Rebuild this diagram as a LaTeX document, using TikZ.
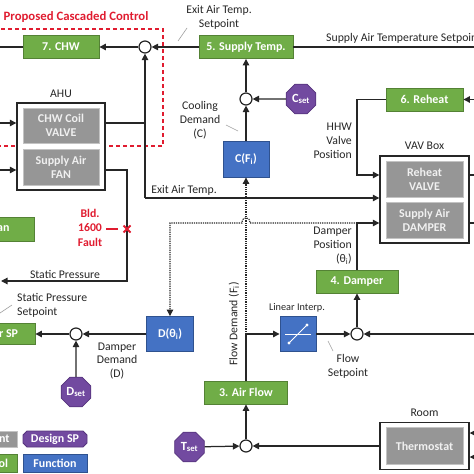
\documentclass[tikz,border=0pt]{standalone}
\usepackage{fontspec}
\setmainfont{Carlito}
\usetikzlibrary{arrows.meta,shapes.geometric,calc}
\definecolor{grn}{RGB}{112,173,71}
\definecolor{grnd}{RGB}{84,130,53}
\definecolor{gry}{RGB}{150,150,150}
\definecolor{gryd}{RGB}{195,195,195}
\definecolor{gryt}{RGB}{240,240,240}
\definecolor{blu}{RGB}{68,114,196}
\definecolor{blud}{RGB}{47,82,143}
\definecolor{pur}{RGB}{114,74,160}
\definecolor{purd}{RGB}{86,52,125}
\definecolor{lc}{RGB}{38,38,38}
\definecolor{rd}{RGB}{224,28,48}
\begin{document}
\begin{tikzpicture}[x=1bp,y=-1bp]
\tikzset{
 ln/.style={draw=lc, line width=1.25bp},
 arr/.style={ln, -{Triangle[length=6.5bp,width=6.5bp]}},
 box/.style={rectangle, line width=0.9bp, inner sep=0pt, align=center, text=white,
   font=\fontsize{12}{14}\selectfont\bfseries},
 gbox/.style={box, fill=grn, draw=grnd, minimum height=23bp},
 pbox/.style={box, fill=gry, draw=gryd, text=gryt, minimum width=77bp},
 bbox/.style={box, fill=blu, draw=blud, minimum height=35bp},
 obox/.style={rectangle, draw=lc, line width=1.4bp, fill=white, inner sep=0pt},
 sumc/.style={circle, draw=lc, line width=1.2bp, fill=white, minimum size=12bp, inner sep=0pt},
 octo/.style={regular polygon, regular polygon sides=8, fill=pur, draw=purd, line width=0.8bp,
   minimum size=32bp, inner sep=0pt, text=white, font=\fontsize{12.5}{14}\selectfont\bfseries},
 lbl/.style={font=\fontsize{11.8}{14}\selectfont, text=lc, inner sep=0pt, align=center},
 lead/.style={draw=gray!75, line width=0.6bp},
 dots/.style={densely dotted, line width=1.1bp},
}
\useasboundingbox (0,0) rectangle (474,474);

% red dashed frame
\draw[rd, line width=1.3bp, dash pattern=on 4bp off 3bp] (-5,29) rectangle (163,146);
\node[lbl, text=rd, font=\fontsize{12.8}{15}\selectfont\bfseries] (title) at (76,17) {Proposed Cascaded Control};

% outer boxes
\node[obox, minimum width=88bp, minimum height=87bp] (ahu) at (61,146.5) {};
\node[lbl] (ahul) at (61,94) {AHU};
\node[obox, minimum width=89bp, minimum height=87bp] (vav) at (424.5,199.5) {};
\node[lbl] (vavl) at (424.5,146) {VAV Box};
\node[obox, minimum width=89bp, minimum height=47bp] (room) at (424.5,446) {};
\node[lbl] (rooml) at (424.5,413) {Room};

% green control boxes
\node[gbox, minimum width=76bp] (chw) at (61,47) {7. CHW};
\node[gbox, minimum width=94bp] (st5) at (246,47) {5. Supply Temp.};
\node[gbox, minimum width=77bp] (r6) at (424.5,99.5) {6. Reheat};
\node[gbox, minimum width=82bp] (d4) at (357,281.5) {4. Damper};
\node[gbox, minimum width=83bp] (a3) at (246,392.5) {3. Air Flow};
\node[gbox, minimum width=76bp, minimum height=24bp] (f1) at (-4,229) {};
\node[box, anchor=east] (f1t) at (10,229) {an};
\node[gbox, minimum width=76bp, minimum height=21bp] (spsp) at (-3,334) {};
\node[box, anchor=east] (spspt) at (18.5,334) {r SP};

% gray plant boxes
\node[pbox, minimum width=76bp, minimum height=35bp] (cv) at (61,125.5) {CHW Coil\\VALVE};
\node[pbox, minimum width=76bp, minimum height=36bp] (fan) at (61,167) {Supply Air\\FAN};
\node[pbox, minimum height=36bp] (rv) at (424.5,179) {Reheat\\VALVE};
\node[pbox, minimum height=36bp] (sd) at (424.5,220) {Supply Air\\DAMPER};
\node[pbox, minimum height=37bp] (th) at (424.5,446) {Thermostat};

% blue functions
\node[bbox, minimum width=46bp, minimum height=36bp] (cf) at (246,159) {C(F\textsubscript{i})};
\node[bbox, minimum width=47bp] (dth) at (170,334) {D(θ\textsubscript{i})};
\node[bbox, minimum width=36bp] (lin) at (298,334) {};
\draw[white, line width=1bp] (285,334) -- (311,334);
\draw[white, line width=1bp] (289,343) -- (307,325);
\fill[white] (289,343) circle (1.7bp) (307,325) circle (1.7bp);

% summing junctions
\node[sumc] (s1) at (145,47) {};
\node[sumc] (s3) at (246,99) {};
\node[sumc] (s2) at (76,334) {};
\node[sumc] (s4) at (357,334) {};
\node[sumc] (s5) at (246,446) {};

% design setpoints
\node[octo] (cset) at (301,99) {C\textsubscript{set}};
\node[octo] (dset) at (76,392) {D\textsubscript{set}};
\node[octo] (tset) at (189.5,447) {T\textsubscript{set}};

% helper coordinates
\coordinate (le1) at (-2,47);
\coordinate (re1) at (476,47);
\coordinate (re2) at (476,99.5);
\coordinate (hh) at (357,175);
\coordinate (ca) at (145,123);
\coordinate (ea) at (145,198);
\coordinate (fo) at (127,170);
\coordinate (sp) at (127,281);
\coordinate (le2) at (-2,123);
\coordinate (le3) at (-2,170);
\coordinate (le4) at (1,281);
\coordinate (dp) at (357,223);
\coordinate (dd) at (170,223);
\coordinate (fd) at (246,334);
\coordinate (re3) at (476,334);
\coordinate (re4) at (476,433);
\coordinate (re5) at (476,457);
\coordinate (re6) at (476,175);
\coordinate (re7) at (476,223);
\coordinate (fx) at (127,229);

% connectors
\draw[ln] (chw.west) -- (le1);
\draw[arr] (s1) -- (chw);
\draw[arr] (st5) -- (s1);
\draw[ln] (st5.east) -- (re1);
\draw[arr] (s3) -- (st5);
\draw[arr] (cset) -- (s3);
\draw[arr] (cf) -- (s3);
\draw[arr] (re2) -- (r6);
\draw[arr] (r6.west) -| (hh) -- (vav.west |- hh);
\draw[arr] (le2) -- (ahu.west |- ca);
\draw[arr] (le3) -- (ahu.west |- fo);
\draw[ln] (ahu.east |- ca) -- (ca);
\draw[arr] (ea) -- (s1);
\draw[arr] (ea) -- (vav.west |- ea);
\draw[arr] (ahu.east |- fo) -- (fo) -- (sp) -- (le4);
\draw[arr] (s2) -- (spsp);
\draw[arr] (dth) -- (s2);
\draw[arr] (dset) -- (s2);
\draw[arr, dots] (dp) -- (250,223) .. controls (250,216) and (242,216) .. (242,223) -- (dd) -- (dth);
\draw[arr] (d4) -- (dp) -- (vav.west |- dp);
\draw[arr] (s4) -- (d4);
\draw[arr] (lin) -- (s4);
\draw[arr] (re3) -- (s4);
\draw[arr] (a3) -- (fd) -- (lin);
\draw[arr, dots] (fd) -- (cf);
\draw[arr] (s5) -- (a3);
\draw[arr] (tset) -- (s5);
\draw[arr] (room) -- (s5);
\draw[arr] (re4) -- (room.east |- re4);
\draw[arr] (re5) -- (room.east |- re5);
\draw[ln] (vav.east |- re6) -- (re6);
\draw[ln] (vav.east |- re7) -- (re7);

% fault mark
\draw[rd, line width=1.4bp] (106,229) -- (118,229);
\draw[rd, line width=2bp] ($(fx)+(-3.5,-3.5)$) -- ($(fx)+(3.5,3.5)$) ($(fx)+(-3.5,3.5)$) -- ($(fx)+(3.5,-3.5)$);
\node[lbl, text=rd, font=\fontsize{11.8}{14.5}\selectfont\bfseries] (fault) at (90,227.5) {Bld.\\1600\\Fault};

% labels
\node[lbl] (eats) at (219,17.5) {Exit Air Temp.\\Setpoint};
\draw[lead] (178,41) -- (187,28);
\node[lbl, anchor=west] (sats) at (326,38) {Supply Air Temperature Setpoint};
\node[lbl] (cd) at (200,120) {Cooling\\Demand\\(C)};
\draw[lead] (226,125) -- (238,131);
\node[lbl] (eat) at (184,190) {Exit Air Temp.};
\node[lbl, align=right, anchor=east] (hhw) at (352,141) {HHW\\Valve\\Position};
\node[lbl, align=right, anchor=east] (dpos) at (352,246) {Damper\\Position\\(θ\textsubscript{i})};
\node[lbl] (spl) at (65,274) {Static Pressure};
\node[lbl, align=left, anchor=west] (spsl) at (17,305) {Static Pressure\\Setpoint};
\draw[lead] (0,313) -- (12,305);
\node[lbl] (dmd) at (117,361) {Damper\\Demand\\(D)};
\node[lbl, font=\fontsize{10.3}{12}\selectfont] (lint) at (297,308) {Linear Interp.};
\node[lbl] (fsp) at (348,366.5) {Flow\\Setpoint};
\draw[lead] (328,341) -- (333,351);
\node[lbl, rotate=90] (fdl) at (234,324) {Flow Demand (F\textsubscript{i})};

% legend
\node[pbox, minimum width=76bp, minimum height=16bp] (lg1) at (-21,439) {};
\node[box, anchor=east] (lg1t) at (10,439) {nt};
\node[gbox, minimum width=76bp, minimum height=18bp] (lg2) at (-21,463) {};
\node[box, anchor=east] (lg2t) at (8.5,463) {ol};
\draw[fill=pur, draw=purd, line width=0.8bp] (23,435) -- (27,431) -- (83,431) -- (87,435) -- (87,443) -- (83,447) -- (27,447) -- (23,443) -- cycle;
\node[box] (lg3) at (55,439) {Design SP};
\node[bbox, minimum width=64bp, minimum height=18bp] (lg4) at (55,463) {Function};
\end{tikzpicture}
\end{document}
